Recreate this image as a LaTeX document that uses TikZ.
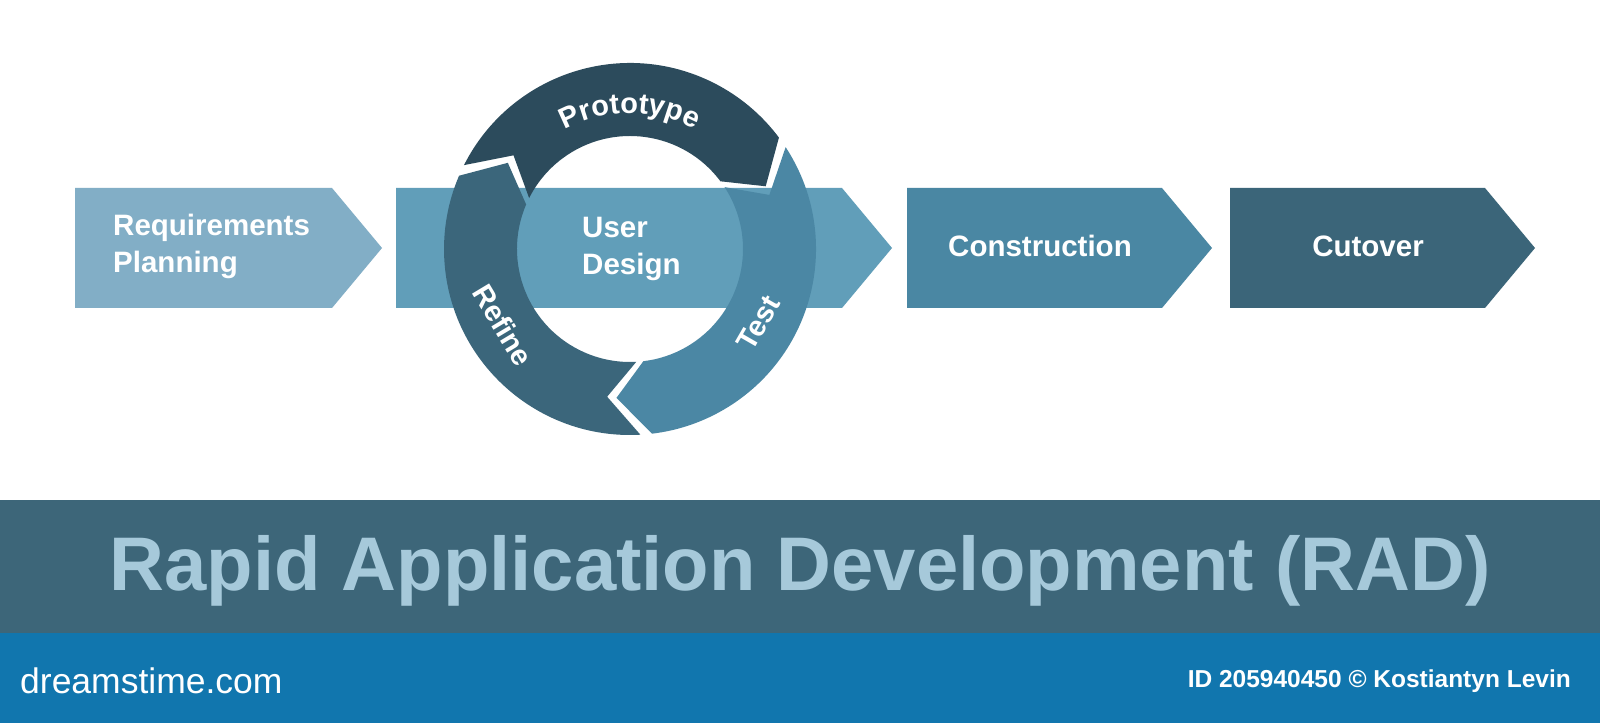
\documentclass[tikz,border=0pt]{standalone}
\usepackage{fontspec}
\setmainfont{Liberation Sans}
\usetikzlibrary{decorations.text}
\definecolor{reqcol}{HTML}{82AEC6}
\definecolor{udcol}{HTML}{619EB9}
\definecolor{concol}{HTML}{4A87A3}
\definecolor{cutcol}{HTML}{3B6579}
\definecolor{protocol}{HTML}{2C4B5C}
\definecolor{refinecol}{HTML}{3B667B}
\definecolor{testcol}{HTML}{4B87A4}
\definecolor{bandcol}{HTML}{3D6679}
\definecolor{titlecol}{HTML}{A6C9DA}
\definecolor{footcol}{HTML}{1176AE}
\newcommand\ringfont{\bfseries\fontsize{29}{29}\selectfont}
\begin{document}
\begin{tikzpicture}[x=1pt,y=1pt,
  lbl/.style={text=white,font=\bfseries\fontsize{29.5}{37}\selectfont,inner sep=0pt},
  ringlbl/.style={text=white,font=\ringfont,inner sep=0pt},
  ringtext/.style={decorate,decoration={text along path,text align=center,text color=white,text={|\ringfont|#1}}}]
\useasboundingbox (0,0) rectangle (1600,723);
\fill[white] (0,0) rectangle (1600,723);
% phase arrows
\fill[reqcol] (75,535) -- (332,535) -- (382,475) -- (332,415) -- (75,415) -- cycle;
\fill[udcol] (396,535) -- (842,535) -- (892,475) -- (842,415) -- (396,415) -- cycle;
\fill[concol] (907,535) -- (1162,535) -- (1212,475) -- (1162,415) -- (907,415) -- cycle;
\fill[cutcol] (1230,535) -- (1485,535) -- (1535,475) -- (1485,415) -- (1230,415) -- cycle;
% cycle ring
\begin{scope}[shift={(630,474)}]
\def\Ro{186}\def\Ri{113}\def\Rm{149.5}
\fill[protocol] (153.2:\Ro) arc[start angle=153.2,end angle=36.8,radius=\Ro] -- (24.8:\Rm) -- (36.8:\Ri) arc[start angle=36.8,end angle=153.2,radius=\Ri] -- (141.2:\Rm) -- cycle;
\fill[testcol] (33.2:\Ro) arc[start angle=33.2,end angle=-83.2,radius=\Ro] -- (-95.2:\Rm) -- (-83.2:\Ri) arc[start angle=-83.2,end angle=33.2,radius=\Ri] -- (21.2:\Rm) -- cycle;
\fill[refinecol] (-86.8:\Ro) arc[start angle=-86.8,end angle=-203.2,radius=\Ro] -- (-215.2:\Rm) -- (-203.2:\Ri) arc[start angle=-203.2,end angle=-86.8,radius=\Ri] -- (-98.8:\Rm) -- cycle;
\path[ringtext=Prototype] (130:136) arc[start angle=130,end angle=50,radius=136];
\node[ringlbl,rotate=-59] (refine) at (211:148) {Refine};
\node[ringlbl,rotate=60] (test) at (-30:148) {Test};
\end{scope}
% labels
\node[lbl,align=left,anchor=base west] (req) at (113,450) {Requirements\\Planning};
\node[lbl,align=left,anchor=base west] (ud) at (582,448) {User\\Design};
\node[lbl,anchor=base] (con) at (1040,466) {Construction};
\node[lbl,anchor=base] (cut) at (1368,466) {Cutover};
% title band and footer
\fill[bandcol] (0,90) rectangle (1600,223);
\fill[footcol] (0,0) rectangle (1600,90);
\node[font=\bfseries\fontsize{76}{76}\selectfont,text=titlecol,anchor=base,inner sep=0pt] (title) at (800,133) {Rapid Application Development (RAD)};
\node[anchor=west,text=white,font=\fontsize{35.5}{35.5}\selectfont,inner sep=0pt] (logo) at (20,42) {dreamstime.com};
\node[anchor=base east,text=white,font=\bfseries\fontsize{24.5}{24.5}\selectfont,inner sep=0pt] (credit) at (1571,36) {ID 205940450 © Kostiantyn Levin};
\end{tikzpicture}
\end{document}
